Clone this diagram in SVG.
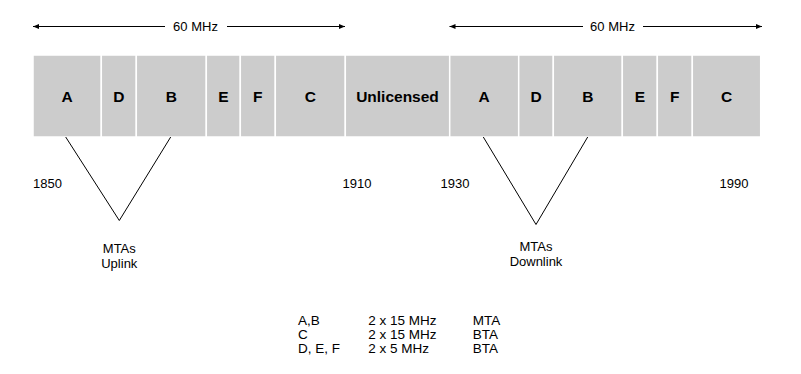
<svg xmlns="http://www.w3.org/2000/svg" width="801" height="374" viewBox="0 0 801 374">
<style>
text{font-family:"Liberation Sans",Arial,sans-serif;fill:#000}
.cell rect{fill:#cccccc;stroke:#ffffff;stroke-width:1.5}
.cell text{font-size:15.5px;font-weight:bold;text-anchor:middle}
.lbl{font-size:13px}
.mid{text-anchor:middle}
.tbl{font-size:13.5px}
.conn line,.conn polyline{stroke:#000;stroke-width:1;fill:none}
</style>
<defs>
<marker id="ah" viewBox="0 0 10 10" refX="10" refY="5" markerWidth="7" markerHeight="6" orient="auto-start-reverse" markerUnits="userSpaceOnUse">
<path d="M0,1 L10,5 L0,9 z" fill="#000"/>
</marker>
</defs>
<rect width="801" height="374" fill="#fff"/>
<g id="band">
<g id="cell-A1" class="cell"><rect x="33" y="55" width="68.3" height="82"/><text x="67.2" y="102">A</text></g>
<g id="cell-D1" class="cell"><rect x="101.3" y="55" width="35" height="82"/><text x="118.8" y="102">D</text></g>
<g id="cell-B1" class="cell"><rect x="136.3" y="55" width="70" height="82"/><text x="171.3" y="102">B</text></g>
<g id="cell-E1" class="cell"><rect x="206.3" y="55" width="34" height="82"/><text x="223.3" y="102">E</text></g>
<g id="cell-F1" class="cell"><rect x="240.3" y="55" width="35" height="82"/><text x="257.8" y="102">F</text></g>
<g id="cell-C1" class="cell"><rect x="275.3" y="55" width="70" height="82"/><text x="310.3" y="102">C</text></g>
<g id="cell-U" class="cell"><rect x="345.3" y="55" width="104.4" height="82"/><text x="397.5" y="102">Unlicensed</text></g>
<g id="cell-A2" class="cell"><rect x="449.7" y="55" width="69" height="82"/><text x="484.2" y="102">A</text></g>
<g id="cell-D2" class="cell"><rect x="518.7" y="55" width="34.6" height="82"/><text x="536" y="102">D</text></g>
<g id="cell-B2" class="cell"><rect x="553.3" y="55" width="69" height="82"/><text x="587.8" y="102">B</text></g>
<g id="cell-E2" class="cell"><rect x="622.3" y="55" width="35" height="82"/><text x="639.8" y="102">E</text></g>
<g id="cell-F2" class="cell"><rect x="657.3" y="55" width="35" height="82"/><text x="674.8" y="102">F</text></g>
<g id="cell-C2" class="cell"><rect x="692.3" y="55" width="68.4" height="82"/><text x="726.5" y="102">C</text></g>
</g>
<g id="connectors" class="conn">
<line x1="165" y1="26.5" x2="33" y2="26.5" marker-end="url(#ah)"/>
<line x1="227" y1="26.5" x2="345" y2="26.5" marker-end="url(#ah)"/>
<line x1="583" y1="26.5" x2="449.5" y2="26.5" marker-end="url(#ah)"/>
<line x1="643" y1="26.5" x2="762" y2="26.5" marker-end="url(#ah)"/>
<polyline points="65.7,137 119.3,220.5 170.7,137"/>
<polyline points="483.3,137 536,224.5 587.7,137"/>
</g>
<g id="span-labels">
<text class="lbl mid" x="195.5" y="31">60 MHz</text>
<text class="lbl mid" x="612.5" y="31">60 MHz</text>
</g>
<g id="freq-labels" class="lbl">
<text x="33" y="188">1850</text>
<text x="342.5" y="188">1910</text>
<text x="440.5" y="188">1930</text>
<text x="719.5" y="188">1990</text>
</g>
<g id="mtas-uplink" class="lbl mid">
<text x="119.3" y="252.5">MTAs</text>
<text x="119.3" y="268">Uplink</text>
</g>
<g id="mtas-downlink" class="lbl mid">
<text x="536" y="251">MTAs</text>
<text x="536" y="266">Downlink</text>
</g>
<g id="legend" class="tbl">
<text x="298" y="325">A,B</text>
<text x="368.3" y="325">2 x 15 MHz</text>
<text x="472.7" y="325">MTA</text>
<text x="298" y="339">C</text>
<text x="368.3" y="339">2 x 15 MHz</text>
<text x="472.7" y="339">BTA</text>
<text x="298" y="353.3">D, E, F</text>
<text x="368.3" y="353.3">2 x 5 MHz</text>
<text x="472.7" y="353.3">BTA</text>
</g>
</svg>
